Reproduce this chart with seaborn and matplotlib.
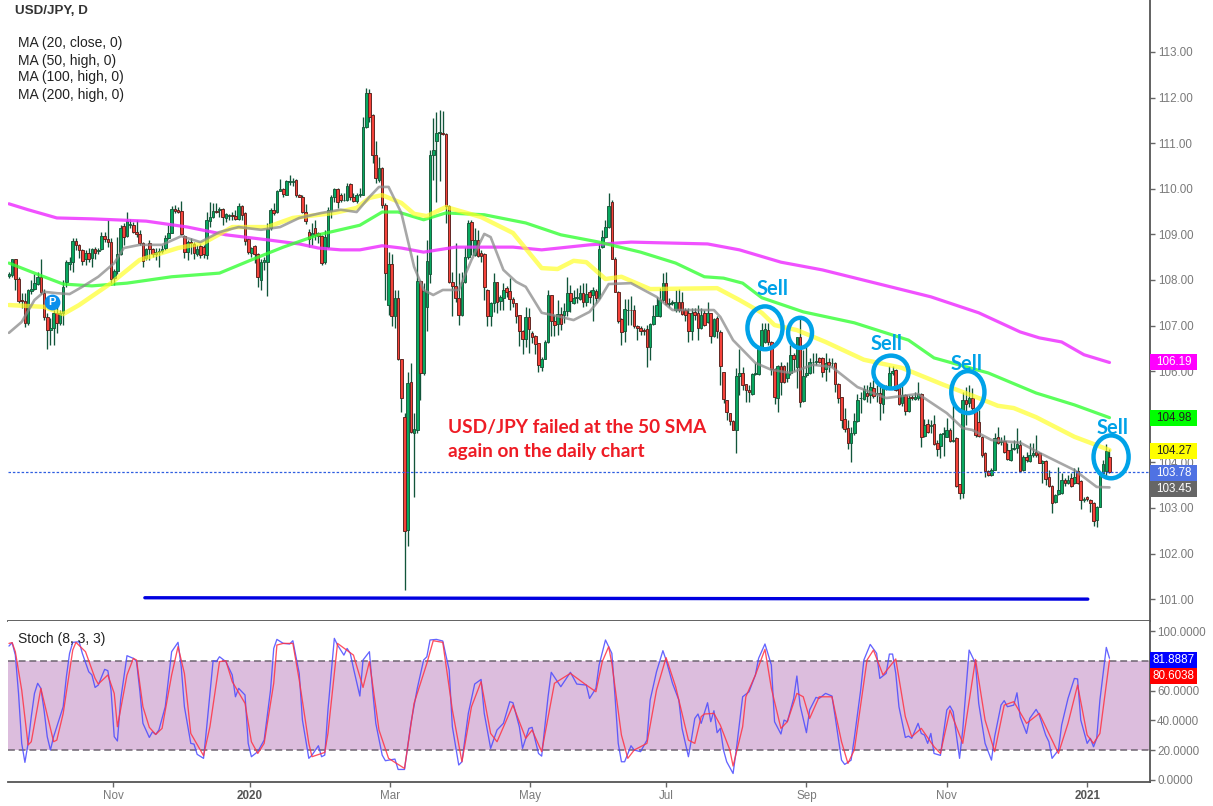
import matplotlib
matplotlib.use("Agg")
import matplotlib.pyplot as plt
from matplotlib.patches import Ellipse, Rectangle
import seaborn as sns

# (open, high, low, close), one small list per stretch
candles_a = [
(108.09,108.18,108.05,108.14),(108.11,108.47,108.07,108.45),(108.45,108.47,107.79,108.01),(108.01,108.06,107.49,107.54),
(107.56,107.71,107.38,107.54),(107.54,107.71,106.97,107.05),(107.05,107.81,107.01,107.78),(107.76,108.0,107.7,107.81),
(107.81,108.14,107.78,107.94),(107.92,108.18,107.89,108.07),(108.07,108.47,107.7,107.74),(107.72,107.81,107.12,107.18),
(107.18,107.27,106.49,106.9),(106.9,107.16,106.57,106.94),(106.94,107.34,106.57,107.28),(107.27,107.63,106.83,107.06),
(107.06,107.34,107.01,107.27),(107.27,108.0,107.01,107.85),(107.96,108.44,107.85,108.40),(108.36,108.51,108.22,108.39),
(108.40,108.91,108.18,108.85),(108.85,108.91,108.65,108.76),(108.76,108.79,108.49,108.65),(108.65,108.67,108.33,108.42),
(108.47,108.65,108.33,108.60),(108.60,108.69,108.40,108.47),(108.49,108.71,108.29,108.68),(108.67,108.73,108.47,108.60),
(108.63,108.69,108.58,108.65),(108.67,109.06,108.65,108.96),(108.96,109.06,108.84,108.89),(108.89,109.31,108.73,108.83),
(108.83,108.91,107.89,108.03),(108.05,108.25,107.89,108.19),(108.19,108.95,108.14,108.58),(108.58,109.2,108.55,109.15),
(109.18,109.24,108.77,108.95),(108.96,109.5,108.95,109.29),(109.20,109.34,109.15,109.22),(109.2,109.28,109.02,109.06),
(109.06,109.31,108.95,109.0),(109.0,109.09,108.77,108.82),(108.82,108.84,108.29,108.42),(108.49,108.71,108.44,108.68),
(108.82,108.87,108.44,108.67),(108.67,108.69,108.51,108.57),(108.57,108.69,108.44,108.62),(108.61,108.71,108.29,108.64),
(108.63,108.77,108.60,108.67),(108.71,108.98,108.65,108.91),(108.91,109.2,108.89,109.04),(109.04,109.62,109.02,109.55),
(109.55,109.64,109.46,109.52),(109.53,109.6,109.46,109.5),(109.52,109.74,108.98,109.0),(108.96,108.98,108.49,108.62),
(108.62,108.87,108.44,108.84),(108.84,108.91,108.58,108.80),(108.79,108.84,108.47,108.60),(108.57,108.77,108.52,108.67),
(108.74,108.79,108.49,108.55),
]
candles_b = [
(108.73,108.77,108.49,108.56),(108.55,109.48,108.47,109.32),(109.30,109.72,109.17,109.37),(109.37,109.68,109.35,109.51),
(109.52,109.68,109.46,109.48),(109.53,109.6,109.39,109.55),(109.55,109.57,109.2,109.37),(109.35,109.46,109.28,109.44),
(109.41,109.45,109.32,109.42),(109.42,109.5,109.32,109.41),(109.40,109.53,109.32,109.34),(109.33,109.69,109.32,109.63),
(109.62,109.65,109.32,109.43),(109.46,109.5,108.77,108.86),(108.89,108.91,108.58,108.62),(108.60,108.73,108.51,108.69),
(108.74,108.77,108.37,108.57),(108.57,108.6,107.85,108.07),(107.99,108.47,107.78,108.40),(108.39,108.51,108.22,108.44),
(108.40,109.24,107.65,109.12),(109.13,109.57,109.1,109.53),(109.53,109.69,109.43,109.46),(109.48,109.97,109.46,109.94),
(109.94,110.21,109.94,109.99),(109.99,110.01,109.83,109.88),(109.87,110.19,109.86,110.17),(110.15,110.3,110.08,110.17),
(110.15,110.23,110.05,110.18),(110.19,110.21,109.83,109.86),(109.86,109.88,109.82,109.83),(109.83,109.86,109.46,109.48),
(109.48,109.67,109.23,109.29),(109.05,109.11,108.73,108.89),(108.97,109.24,108.77,109.04),(109.15,109.31,108.88,108.99),
(109.02,109.06,108.80,108.96),(108.96,108.99,108.33,108.38),(108.40,109.1,108.35,108.95),(108.72,109.6,108.69,109.53),
(109.52,109.86,109.35,109.83),(109.81,110.01,109.72,109.99),(109.99,110.01,109.57,109.72),(109.86,109.9,109.72,109.75),
(109.75,109.9,109.74,109.76),(109.75,110.13,109.74,110.07),(110.1,110.12,109.75,109.81),(109.81,109.9,109.72,109.74),
(109.74,109.9,109.68,109.86),(109.86,110.01,109.83,109.89),(109.87,111.58,109.86,111.35),(111.35,112.22,111.33,112.11),
(112.11,112.18,111.47,111.58),(111.62,111.65,110.56,110.74),(110.74,111.05,110.12,110.23),(110.19,110.69,110.15,110.45),
(110.45,110.47,109.57,109.64),(109.64,109.68,107.56,108.15),
]
candles_c = [
(107.45,108.62,107.23,108.35),(108.35,108.58,106.98,107.21),(107.21,107.79,106.94,107.6),(107.6,107.78,106.24,106.26),
(106.26,106.26,105.11,105.4),(105.0,105.08,101.2,102.50),(102.52,105.99,102.17,105.75),(105.77,106.17,104.64,104.66),
(104.65,105.08,103.23,104.73),(104.72,108.55,104.64,107.98),(107.98,108.0,105.37,105.95),(105.95,107.93,105.92,107.76),
(107.41,108.87,106.87,108.42),(108.13,110.85,107.93,110.73),(110.73,111.55,110.19,110.85),(111.05,111.69,109.72,111.23),
(111.23,111.73,110.16,111.25),(111.23,111.71,111.18,111.2),(111.2,111.23,109.24,109.62),(109.62,109.65,107.93,107.96),
(107.96,108.18,107.2,107.87),(107.87,108.8,107.52,107.6),(107.6,108.15,107.01,107.23),(107.23,108.18,107.21,107.96),
(107.96,108.73,107.93,108.5),(108.5,109.31,108.47,109.26),(109.28,109.31,108.55,108.88),(108.55,109.13,108.53,108.88),
(108.88,109.1,108.51,108.53),(108.6,108.66,108.40,108.53),(108.58,108.6,107.56,107.84),
]
candles_d = [
(107.78,107.8,106.98,107.2),(107.2,107.52,106.99,107.49),(107.49,108.15,107.3,107.95),(107.95,107.96,107.28,107.52),
(107.54,107.67,107.34,107.62),(107.61,107.93,107.34,107.78),(107.82,107.87,107.63,107.74),(107.76,108.04,107.34,107.58),
(107.58,107.63,107.41,107.5),(107.49,107.5,107.05,107.21),(107.23,107.23,106.56,106.87),(106.88,106.9,106.37,106.7),
(106.7,107.41,106.54,107.18),(107.18,107.38,106.39,106.92),(106.83,106.87,106.61,106.74),(106.77,106.79,106.38,106.59),
(106.61,106.61,105.99,106.14),(106.1,106.32,106.01,106.27),(106.27,106.68,106.26,106.65),(106.63,107.78,106.61,107.66),
(107.68,107.68,106.76,107.09),(107.09,107.23,106.77,107.02),(107.03,107.56,106.8,107.25),(107.25,107.41,106.9,107.03),
(107.23,107.49,107.06,107.33),(107.32,108.07,107.2,107.71),(107.71,107.89,107.3,107.53),(107.49,107.78,107.47,107.61),
(107.61,107.82,107.49,107.63),(107.58,107.89,107.56,107.71),(107.71,107.93,107.41,107.52),(107.52,107.93,107.43,107.69),
(107.73,107.78,107.49,107.63),(107.67,107.84,107.09,107.78),(107.76,107.8,107.49,107.6),(107.6,108.8,107.58,108.67),
(108.72,109.09,108.69,108.95),(108.95,109.31,108.93,109.17),(109.17,109.9,109.15,109.62),(109.72,109.75,108.47,108.47),
(108.47,108.51,107.73,107.73),
]
candles_e = [
(107.73,107.75,107.05,107.09),(107.14,107.16,106.58,106.85),(106.87,107.58,106.63,107.36),(107.34,107.58,107.01,107.35),
(107.35,107.65,107.01,107.34),(107.34,107.45,106.94,107.0),(107.0,107.01,106.68,106.95),(106.95,106.98,106.79,106.87),
(106.9,106.94,106.79,106.87),(106.92,107.01,106.08,106.52),(106.52,107.05,106.25,107.03),(107.03,107.45,107.01,107.21),
(107.21,107.63,107.2,107.45),(107.2,107.82,107.18,107.56),(107.56,108.16,107.52,107.93),(107.93,108.18,107.45,107.47),
(107.47,107.6,107.41,107.5),(107.5,107.56,107.45,107.51),(107.34,107.78,107.3,107.51),(107.51,107.8,107.3,107.34),
(107.51,107.74,107.23,107.25),(107.34,107.38,107.09,107.23),(107.27,107.38,106.65,106.89),(106.89,107.38,106.68,107.27),
(107.29,107.38,107.12,107.23),(107.27,107.45,106.68,106.94),(106.94,107.38,106.92,107.23),(107.27,107.34,106.98,107.01),
(107.07,107.52,107.05,107.28),(107.27,107.28,106.61,106.76),(106.77,107.16,106.74,107.14),(107.16,107.2,106.72,106.87),
(106.85,106.9,105.7,106.12),(105.98,105.99,105.3,105.38),(105.37,105.37,104.93,105.1),(105.08,105.08,104.81,104.91),
(104.91,104.93,104.7,104.71),(104.70,106.06,104.2,105.9),(105.9,106.48,105.48,105.95),(105.95,106.1,105.59,105.7),
(105.72,105.72,105.33,105.59),(105.59,105.7,105.33,105.54),(105.5,105.95,105.48,105.93),(105.93,106.17,105.92,105.95),
(105.94,106.5,105.92,106.48),(106.48,107.05,106.46,106.9),(106.63,107.05,106.61,106.92),(106.9,107.05,106.57,106.63),
(106.65,106.66,105.92,106.04),(106.04,106.06,105.28,105.43),(105.41,106.14,105.11,106.11),(106.11,106.21,105.48,105.77),
(106.11,106.14,105.73,105.77),(105.86,106.21,105.77,105.95),(105.95,106.58,105.92,106.36),(106.36,106.39,106.0,106.27),
(106.08,106.74,105.62,106.74),(106.75,107.16,105.22,105.33),
]
candles_f = [
(105.35,106.46,105.33,105.9),(105.92,106.57,105.88,105.95),(105.95,106.28,105.94,106.19),(106.19,106.39,105.95,106.2),
(106.19,106.39,106.14,106.23),(106.28,106.32,106.17,106.21),(106.28,106.32,105.88,105.99),(106.04,106.39,105.79,106.17),
(106.2,106.28,105.99,106.13),(106.17,106.28,106.1,106.18),(106.17,106.19,105.55,105.71),(105.71,105.73,105.3,105.42),
(105.43,105.44,104.75,104.93),(104.94,105.19,104.67,104.73),(104.75,104.93,104.3,104.43),(104.43,104.78,104.01,104.64),
(104.64,105.08,104.6,104.9),(104.91,105.49,104.89,105.37),(105.4,105.55,105.08,105.41),(105.39,105.7,105.37,105.6),
(105.51,105.7,105.33,105.46),(105.48,105.77,105.3,105.65),(105.62,105.81,105.41,105.46),(105.5,105.7,105.33,105.51),
(105.51,105.73,104.93,105.31),(105.29,105.66,105.08,105.62),(105.62,105.7,105.58,105.63),(105.62,106.11,105.61,105.95),
(105.95,106.11,105.92,106.0),(106.03,106.04,105.57,105.59),(105.65,105.66,105.26,105.29),(105.31,105.67,105.24,105.48),
(105.48,105.49,105.04,105.13),(105.13,105.48,105.11,105.41),(105.44,105.48,105.37,105.41),(105.38,105.55,105.37,105.43),
(105.42,105.77,105.37,105.5),(105.5,105.51,104.34,104.55),(104.58,104.94,104.56,104.81),(104.84,104.94,104.64,104.67),
(104.8,104.93,104.64,104.81),(104.84,105.04,104.38,104.4),(104.42,104.49,104.14,104.29),(104.35,104.64,104.09,104.62),
(104.63,104.77,104.13,104.64),(104.56,104.97,104.55,104.71),(104.72,104.75,104.45,104.47),(104.47,105.26,104.45,104.48),
(104.53,104.55,103.45,103.48),(103.52,103.52,103.19,103.32),
]
candles_g = [
(103.33,105.55,103.21,105.37),(105.37,105.66,104.82,105.27),(105.3,105.7,105.22,105.42),(105.42,105.62,105.15,105.2),
(105.15,105.2,104.56,104.6),(104.88,105.15,104.56,104.58),(104.56,104.58,104.12,104.16),(104.21,104.23,103.67,103.81),
(103.81,103.83,103.69,103.72),(103.72,103.87,103.69,103.83),(103.84,104.64,103.83,104.53),(104.55,104.78,104.4,104.42),
(104.45,104.56,104.38,104.46),(104.47,104.6,104.2,104.23),(104.27,104.42,104.05,104.07),(104.05,104.42,104.04,104.27),
(104.3,104.49,104.27,104.31),(104.31,104.75,104.2,104.4),(104.38,104.49,103.8,103.81),(103.83,104.16,103.82,104.12),
(104.12,104.23,104.0,104.05),(104.04,104.42,104.0,104.17),(104.16,104.42,104.12,104.2),(104.23,104.6,104.12,104.16),
(104.21,104.23,103.98,103.99),(103.99,104.05,103.54,104.03),(104.03,104.05,103.5,103.64),(103.67,103.83,103.45,103.47),
(103.48,103.5,102.88,103.1),(103.12,103.3,103.1,103.28),(103.3,103.9,103.28,103.39),(103.32,103.76,103.3,103.62),
(103.62,103.65,103.47,103.54),(103.54,103.72,103.52,103.62),(103.65,103.76,103.45,103.47),(103.54,103.87,103.52,103.67),
(103.8,103.9,103.52,103.55),(103.6,103.61,102.97,103.17),(103.17,103.25,103.14,103.2),(103.25,103.26,103.16,103.19),
(103.17,103.19,102.92,103.1),(103.1,103.12,102.6,102.72),(102.74,103.04,102.59,103.03),(103.03,103.8,103.01,103.76),
(103.76,104.05,103.74,103.96),(103.8,104.4,103.67,104.24),(104.12,104.3,103.76,103.78),
]

ma200_bars = [0,6,15,26,33,43,56,68,81,91,97,104,110,117,123,130,140,158,167,182,195,219,229,242,255,270,289,304,317,323,330,337,345]
ma200_vals = [109.67,109.54,109.36,109.34,109.32,109.29,109.16,108.99,108.88,108.79,108.70,108.66,108.66,108.75,108.70,108.61,108.72,108.72,108.66,108.77,108.83,108.79,108.66,108.39,108.22,107.96,107.63,107.28,106.86,106.73,106.64,106.36,106.19]
ma100_bars = [0,8,17,26,37,51,66,76,86,97,110,117,122,130,137,149,162,173,185,198,209,218,224,230,236,249,265,282,290,307,322,334,345]
ma100_vals = [108.37,108.15,107.91,107.87,107.93,108.07,108.15,108.44,108.72,108.99,109.2,109.49,109.49,109.32,109.47,109.43,109.25,108.99,108.83,108.61,108.37,108.07,108.04,107.93,107.61,107.30,107.06,106.68,106.29,105.96,105.52,105.26,104.98]
ma50_bars = [0,11,17,22,32,41,53,61,70,81,89,102,109,113,117,123,127,131,137,148,158,167,172,177,181,187,192,201,222,229,236,240,247,256,268,280,293,304,310,315,322,334,345]
ma50_vals = [107.45,107.41,107.25,107.45,107.93,108.44,108.70,108.81,109.16,109.16,109.36,109.47,109.58,109.80,109.86,109.69,109.45,109.40,109.60,109.38,109.03,108.26,108.24,108.42,108.39,108.02,108.07,107.80,107.82,107.56,107.28,107.01,106.90,106.64,106.25,106.07,105.70,105.41,105.24,105.19,104.99,104.56,104.27]
ma20_bars = [0,4,8,11,15,19,23,28,33,36,41,48,54,60,66,72,79,85,91,98,104,109,113,116,119,123,127,130,133,136,141,145,149,151,155,159,162,167,173,177,182,185,188,195,203,208,221,223,227,234,239,245,252,258,266,275,285,294,299,302,308,317,323,334,341,345]
ma20_vals = [106.84,107.08,107.56,107.74,107.71,107.69,107.85,108.07,108.37,108.70,108.77,108.77,108.96,108.83,109.05,109.16,109.10,109.16,109.36,109.47,109.54,109.49,109.82,110.04,110.04,109.47,108.29,107.78,107.67,107.78,107.78,108.44,109.01,108.94,108.22,107.96,107.85,107.28,107.19,107.12,107.30,107.56,107.91,107.93,107.63,107.34,107.34,107.19,106.68,106.18,106.03,105.96,106.14,106.09,105.65,105.41,105.5,105.08,104.75,104.71,104.49,104.43,104.21,103.83,103.46,103.45]

stoch_k_bars = [0,1,2,3,4,5,6,7,8,9,10,11,12,13,14,15,17,18,19,20,22,23,25,26,27,28,30,31,32,33,34,35,37,39,40,41,42,44,45,46,47,49,51,53,54,55,57,58,59,61,62,64,65,66,68,70,71,72,74,75,76,78,80,82,83,84,86,88,89,91,92,94,95,97,98,99,100,102,103,105,106,107,108,110,111,113,114,115,117,118,121,122,124,126,128,130,131,132,134,136,138,139,141,142,144,146,148,149,151,153,155,157,158,160,161,163,164,166,167,169,170,173,176,178,181,182,184,185,187,189,190,191,192,193,195,196,198,200,201,203,205,206,208,210,211,213,214,215,216,217,219,220,221,222,223,224,225,227,228,230,232,234,235,237,239,240,242,243,244,246,247,248,250,251,253,254,256,258,259,261,262,264,265,267,268,270,272,273,275,276,277,278,279,281,282,283,285,286,287,288,289,290,292,294,295,296,298,299,301,303,304,306,308,309,311,312,313,315,316,317,319,320,322,323,325,326,327,329,330,332,334,335,336,338,339,340,341,342,344,345]
stoch_k_vals = [90.1,92.4,84.0,58.2,24.5,11.7,24.5,42.5,58.2,65.0,61.6,47.0,29.0,20.0,29.0,35.7,49.2,69.4,85.2,92.6,93.0,85.2,72.8,70.6,62.2,63.8,74.4,73.5,60.4,29.0,26.1,53.7,83.6,81.8,79.6,60.4,38.0,28.5,32.3,30.5,33.5,49.2,86.3,92.6,76.2,49.2,24.5,24.0,17.1,14.4,35.7,80.2,79.6,82.9,79.6,70.6,55.9,61.6,57.1,24.5,15.5,18.9,26.7,60.4,88.5,94.6,91.9,91.5,93.7,71.7,40.2,14.4,16.6,22.9,15.5,16.6,47.0,95.3,90.8,84.0,88.5,85.2,75.1,56.4,80.7,86.3,60.4,38.0,16.6,12.8,13.9,6.9,6.9,38.0,61.6,80.7,82.9,94.2,94.6,93.5,73.9,35.7,9.9,12.1,44.7,64.5,67.6,44.7,21.1,33.5,38.0,52.6,51.9,35.7,21.1,34.6,35.3,17.7,15.9,55.9,72.4,62.7,72.4,64.5,63.8,54.8,61.6,77.3,94.2,85.2,55.9,24.5,12.1,12.1,22.9,20.0,18.9,26.7,53.7,72.8,87.0,80.7,65.0,53.7,34.6,15.5,27.9,41.3,44.3,38.0,51.9,39.1,46.5,31.7,34.6,20.0,12.1,4.2,20.0,55.9,59.3,70.6,81.8,91.5,77.3,39.1,30.8,40.2,39.1,54.8,69.9,50.3,31.7,47.0,55.5,54.8,58.2,56.4,42.5,13.2,10.3,13.2,27.9,60.4,80.7,91.2,85.2,68.3,71.7,84.7,84.7,71.7,49.2,28.5,29.4,27.9,38.0,31.2,30.1,24.5,31.2,17.7,16.4,47.0,49.7,45.8,14.4,33.5,87.4,78.4,51.5,24.5,13.2,29.0,50.3,53.3,49.2,50.3,58.6,42.5,31.2,41.3,47.4,43.6,30.1,25.6,14.4,20.0,36.8,54.8,68.3,67.9,40.2,24.5,27.9,22.2,27.9,53.7,89.2,81.9]
stoch_d_bars = [0,1,2,4,6,7,10,14,15,17,20,21,24,27,28,31,33,34,37,39,40,42,44,46,48,51,53,55,57,61,63,66,68,70,74,76,78,80,83,84,86,89,91,94,95,99,100,103,108,111,113,116,119,124,127,131,133,136,139,142,145,148,151,153,158,162,164,167,171,176,181,184,186,188,189,192,194,196,200,203,206,209,213,215,217,218,221,223,226,227,230,231,234,237,239,242,244,247,249,251,254,258,261,263,265,269,271,274,278,281,283,286,290,292,295,299,303,306,309,312,315,319,323,326,329,332,335,338,340,342,345]
stoch_d_vals = [91.9,92.4,86.3,60.4,23.4,25.6,61.6,25.6,26.7,44.7,87.4,92.6,86.3,68.3,64.5,70.6,58.2,35.7,70.6,81.8,80.7,49.2,35.3,30.5,34.6,70.6,89.7,71.7,31.2,16.2,35.7,79.6,80.2,66.1,51.5,25.6,17.7,24.5,65.0,90.8,91.9,91.9,67.2,24.5,15.5,18.4,31.2,91.9,84.0,62.2,79.6,33.5,14.4,7.6,51.5,78.4,93.7,92.6,47.0,12.1,49.2,66.1,31.2,25.6,50.3,27.9,33.5,18.9,65.0,71.7,63.8,59.3,79.6,89.7,78.4,30.1,14.4,20.0,24.5,60.4,82.3,62.7,26.7,24.5,42.5,44.3,44.7,36.8,20.0,9.2,35.7,55.9,70.6,87.9,61.6,34.6,39.1,58.2,55.9,41.3,55.9,55.9,25.6,11.0,20.0,80.7,87.4,70.6,81.4,42.5,29.0,34.6,22.2,17.7,47.0,24.5,81.1,40.2,18.9,50.3,52.6,38.0,44.7,31.2,17.7,38.0,63.8,30.1,24.5,31.2,80.6]

legend_lines = ["MA (20, close, 0)", "MA (50, high, 0)", "MA (100, high, 0)", "MA (200, high, 0)"]
price_ticks = [101, 102, 103, 104, 105, 106, 107, 108, 109, 110, 111, 112, 113]
stoch_ticks = [0, 20, 40, 60, 80, 100]
month_bars = [32.6, 75.5, 119.4, 163.3, 206, 250, 294, 338]
month_labels = ["Nov", "2020", "Mar", "May", "Jul", "Sep", "Nov", "2021"]
last_price = 103.78
support_bars = [42.6, 338.2]
support_vals = [101.03, 101.0]
sell_bars = [238.5, 274.2, 299.3, 345]
sell_prices = [107.8, 106.6, 106.15, 104.75]
ring_bars = [237, 248, 276.5, 300.6, 345.5]
ring_prices = [106.95, 106.84, 105.98, 105.54, 104.12]
ring_widths = [11.0, 7.5, 11.0, 10.4, 11.0]
ring_heights = [0.94, 0.66, 0.72, 0.92, 0.94]
price_tags = [("106.19", 106.19, "#ff00ff", "white"), ("104.98", 104.97, "#00ff00", "#222222"),
              ("104.27", 104.25, "#ffff00", "#222222"), ("103.78", 103.77, "#4f72e3", "white"),
              ("103.45", 103.42, "#666666", "white")]
stoch_tags = [("81.8887", 80.8, "#0000ff", "white"), ("80.6038", 70.2, "#ff0000", "white")]

candles = candles_a + candles_b + candles_c + candles_d + candles_e + candles_f + candles_g
opens = [r[0] for r in candles]
highs = [r[1] for r in candles]
lows = [r[2] for r in candles]
closes = [r[3] for r in candles]
bars = list(range(len(candles)))

sns.set_theme(style="white")
plt.rcParams["font.family"] = ["Liberation Sans", "DejaVu Sans"]

W, H = 1213, 806
fig = plt.figure(figsize=(W / 100, H / 100), dpi=100, facecolor="white")
L, R = 8, 1150
ax = fig.add_axes([L / W, (H - 621) / H, (R - L) / W, 621 / H])
st = fig.add_axes([L / W, (H - 782) / H, (R - L) / W, 161 / H], sharex=ax)

# candles
wick = "#11553a"
ax.vlines(bars, lows, highs, color=wick, lw=0.95, zorder=2)
up = [i for i in bars if closes[i] >= opens[i]]
dn = [i for i in bars if closes[i] < opens[i]]
ax.bar(up, [closes[i] - opens[i] for i in up], bottom=[opens[i] for i in up], width=0.82,
       color="#08a860", edgecolor="#17583a", linewidth=0.65, zorder=3)
ax.bar(dn, [opens[i] - closes[i] for i in dn], bottom=[closes[i] for i in dn], width=0.82,
       color="#f5423a", edgecolor="#5a201c", linewidth=0.65, zorder=3)

# moving averages
for xs, ys, c, lw, a in [(ma200_bars, ma200_vals, "#ee33ff", 2.3, 0.85),
                         (ma100_bars, ma100_vals, "#33ff33", 2.3, 0.8),
                         (ma50_bars, ma50_vals, "#ffff22", 3.2, 0.68),
                         (ma20_bars, ma20_vals, "#8a8a8a", 1.9, 0.75)]:
    sns.lineplot(x=xs, y=ys, ax=ax, color=c, lw=lw, alpha=a, errorbar=None, zorder=4)

ax.axhline(last_price, color="#2f5fe0", lw=0.9, ls=(0, (2, 1.5)), zorder=4)
sns.lineplot(x=support_bars, y=support_vals, ax=ax, color="#0000e0", lw=2.4, errorbar=None, zorder=4)

# rings and notes
for x, y, w, h in zip(ring_bars, ring_prices, ring_widths, ring_heights):
    ax.add_patch(Ellipse((x, y), w, h, fill=False, edgecolor="#00a2e8", lw=3.2, zorder=6))
for x, y in zip(sell_bars, sell_prices):
    ax.text(x + 1, y, "Sell", color="#00a2e8", fontsize=14.5, fontweight="bold",
            family=["Lato", "DejaVu Sans"], ha="center", va="center", zorder=7)
ax.text(137.5, 104.49, "USD/JPY failed at the 50 SMA\nagain on the daily chart", color="#ee1c25",
        fontsize=13.7, fontweight="bold", family=["Lato", "DejaVu Sans"], ha="left", va="center",
        linespacing=1.5, zorder=7)
ax.scatter([13.4], [107.52], s=130, color="#0b8fec", zorder=8, linewidths=0)
ax.text(13.4, 107.52, "P", color="white", fontsize=8, fontweight="bold", ha="center", va="center", zorder=9)

ax.set_xlim(-0.3, 357.7)
ax.set_ylim(100.52, 114.14)
ax.set_yticks(price_ticks)
# the 105.00 label sits wholly behind the green tag in the reference
ax.set_yticklabels(["" if v == 105 else f"{v:.2f}" for v in price_ticks])
ax.yaxis.tick_right()
ax.tick_params(axis="y", length=3.6, width=1, color="#666666", labelcolor="#7a7a7a", labelsize=8.4, pad=2, right=True)
ax.tick_params(axis="x", bottom=False, labelbottom=False)
ax.set_xlabel("")
ax.set_ylabel("")

fig.text(15 / W, 1 - 10.7 / H, "USD/JPY, D", fontsize=9.6, fontweight="bold", color="#333333", va="center")
for k, line in enumerate(legend_lines):
    fig.text(18 / W, 1 - (43.5 + 17 * k) / H, line, fontsize=10, color="#222222", va="center")

# stochastic panel
st.axhspan(20, 80, color="#dcbddd", lw=0, zorder=1)
for lvl in (20, 80):
    st.axhline(lvl, color="#6e6470", lw=1.1, ls=(0, (4.5, 2.5)), zorder=2)
sns.lineplot(x=stoch_k_bars, y=stoch_k_vals, ax=st, color="#4a4aff", lw=0.95, alpha=0.85, errorbar=None, zorder=3)
sns.lineplot(x=stoch_d_bars, y=stoch_d_vals, ax=st, color="#ff3344", lw=0.95, alpha=0.85, errorbar=None, zorder=4)
st.set_ylim(-1.55, 107.0)
st.set_yticks(stoch_ticks)
# the 80.0000 label sits wholly behind the blue and red tags in the reference
st.set_yticklabels(["" if v == 80 else f"{v:.4f}" for v in stoch_ticks])
st.yaxis.tick_right()
st.tick_params(axis="y", length=3.6, width=1, color="#666666", labelcolor="#7a7a7a", labelsize=8.4, pad=1.5, right=True)
st.set_xticks(month_bars)
st.set_xticklabels(month_labels)
st.tick_params(axis="x", length=3.6, width=1, color="#666666", labelcolor="#7a7a7a", labelsize=8.4, pad=2, bottom=True, labelbottom=True)
for t in st.get_xticklabels():
    if t.get_text().startswith("20"):
        t.set_fontweight("bold")
        t.set_color("#555555")
st.text(0.0085, 0.89, "Stoch (8, 3, 3)", transform=st.transAxes, fontsize=10, color="#222222", va="center")
st.set_xlabel("")
st.set_ylabel("")

for a in (ax, st):
    for side, vis in dict(left=False, top=False, right=True, bottom=True).items():
        a.spines[side].set_visible(vis)
        a.spines[side].set_color("#555555")
        a.spines[side].set_linewidth(1.3)
    a.grid(False)

# value tags on the price scale
tag_w = 47 / (R - L)
for a, tags, px in ((ax, price_tags, 45.6), (st, stoch_tags, 1.483)):
    tr = a.get_yaxis_transform()
    for txt, y, bg, fg in tags:
        h = 16 / px
        a.add_patch(Rectangle((1.0, y - h / 2), tag_w, h, transform=tr, facecolor=bg, edgecolor="none",
                              clip_on=False, zorder=10))
        a.text(1.0 + tag_w / 2, y, txt, transform=tr, color=fg, fontsize=8.4, ha="center", va="center",
               clip_on=False, zorder=11)

fig.savefig("out.png", dpi=100, facecolor="white")
